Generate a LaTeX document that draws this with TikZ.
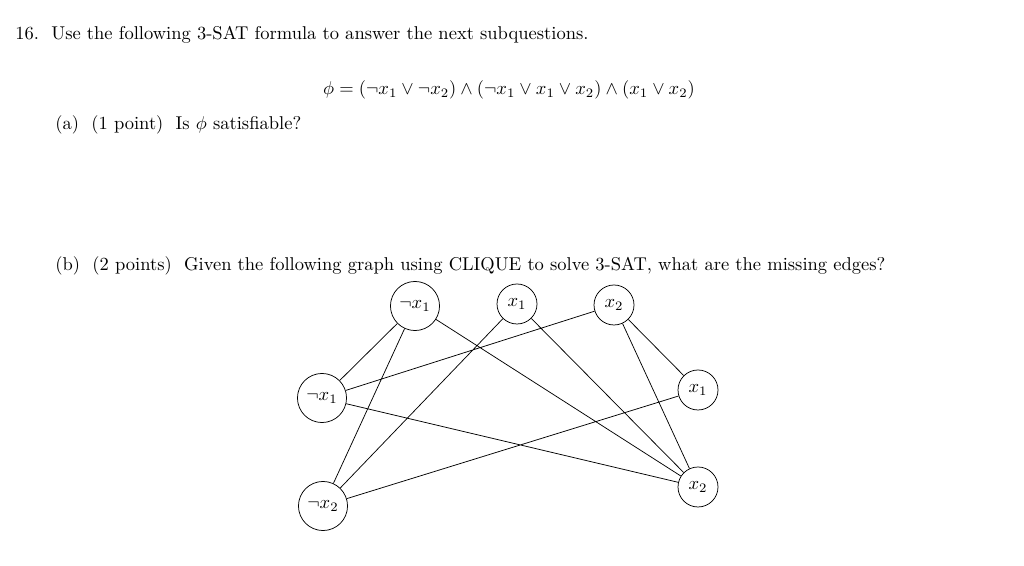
\documentclass[tikz,border=0pt]{standalone}
\begin{document}
\begin{tikzpicture}[x=0.54pt,y=-0.54pt,
  v/.style={circle,draw,inner sep=0pt,minimum size=21.6pt},
  nv/.style={circle,draw,inner sep=0pt,minimum size=26.5pt},
  txt/.style={anchor=base west,inner sep=0pt}]
\useasboundingbox (0,0) rectangle (1024,566);
\node[txt] (t1) at (15,40) {16.\ \ Use the following 3-SAT formula to answer the next subquestions.};
\node[anchor=base,inner sep=0pt] (f) at (509,95) {$\phi=(\neg x_1\vee\neg x_2)\wedge(\neg x_1\vee x_1\vee x_2)\wedge(x_1\vee x_2)$};
\node[txt] (a) at (55,130) {(a)\ \ (1 point)\ \ Is $\phi$ satisfiable?};
\node[txt] (b) at (55,271) {(b)\ \ (2 points)\ \ Given the following graph using CLIQUE to solve 3-SAT, what are the missing edges?};
\node[nv] (a1) at (415,306) {$\neg x_1$};
\node[v] (a2) at (517,304) {$x_1$};
\node[v] (a3) at (614,305) {$x_2$};
\node[nv] (b1) at (322,398) {$\neg x_1$};
\node[nv] (b2) at (323,506) {$\neg x_2$};
\node[v] (c1) at (698,390) {$x_1$};
\node[v] (c2) at (698,487) {$x_2$};
\draw (a1)--(b1) (a1)--(b2) (a1)--(c2) (a2)--(b2) (a2)--(c2)
      (a3)--(b1) (a3)--(c1) (a3)--(c2) (b1)--(c2) (b2)--(c1);
\end{tikzpicture}
\end{document}
